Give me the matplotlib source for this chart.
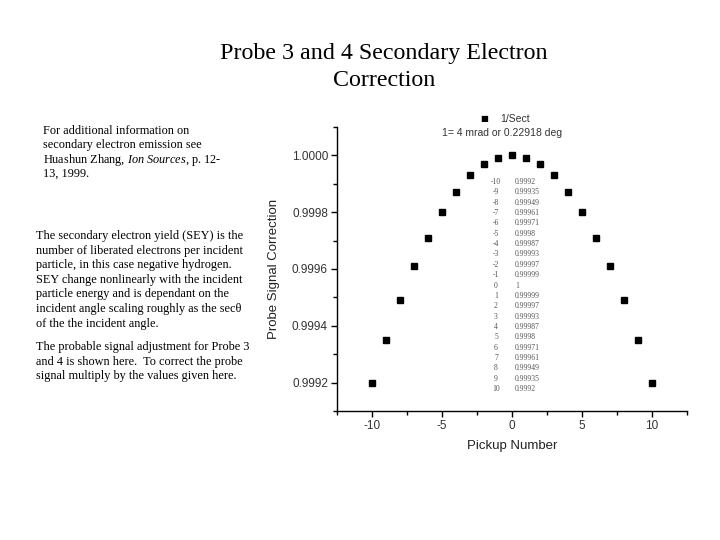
import matplotlib
matplotlib.use("Agg")
import matplotlib.pyplot as plt
from matplotlib.ticker import MultipleLocator, FormatStrFormatter

# ---- data ----
pickup = list(range(-10, 11))
correction = [0.9992, 0.99935, 0.99949, 0.99961, 0.99971, 0.9998, 0.99987,
              0.99993, 0.99997, 0.99999, 1.0, 0.99999, 0.99997, 0.99993,
              0.99987, 0.9998, 0.99971, 0.99961, 0.99949, 0.99935, 0.9992]
table_n = [str(n) for n in pickup]
table_vals = ["0.9992", "0.99935", "0.99949", "0.99961", "0.99971", "0.9998",
              "0.99987", "0.99993", "0.99997", "0.99999", "1", "0.99999",
              "0.99997", "0.99993", "0.99987", "0.9998", "0.99971", "0.99961",
              "0.99949", "0.99935", "0.9992"]

title_lines = ["Probe 3 and 4 Secondary Electron", "Correction"]
para1 = ["For additional information on",
         "secondary electron emission see",
         r"Huashun Zhang, $\mathit{Ion\ Sources}$, p. 12-",
         "13, 1999."]
para2 = ["The secondary electron yield (SEY) is the",
         "number of liberated electrons per incident",
         "particle, in this case negative hydrogen.",
         "SEY change nonlinearly with the incident",
         "particle energy and is dependant on the",
         "incident angle scaling roughly as the sec\u03b8",
         "of the the incident angle."]
para3 = ["The probable signal adjustment for Probe 3",
         "and 4 is shown here.  To correct the probe",
         "signal multiply by the values given here."]

plt.rcParams['mathtext.fontset'] = 'custom'
plt.rcParams['mathtext.it'] = 'Liberation Serif:italic'
plt.rcParams['mathtext.rm'] = 'Liberation Serif'
plt.rcParams['axes.unicode_minus'] = False

W, H = 720, 540
fig = plt.figure(figsize=(7.2, 5.4), dpi=100)

def fx(x):
    return x / W

def fy(y):
    return 1 - y / H

serif = "Liberation Serif"
sans = "Liberation Sans"

# title
for i, line in enumerate(title_lines):
    fig.text(fx(384), fy(53 + i * 28), line, ha="center", va="center",
             family=serif, fontsize=17.3, color="black")

# left text blocks
for i, line in enumerate(para1):
    fig.text(fx(43), fy(131 + i * 14.3), line, ha="left", va="center",
             family=serif, fontsize=8.8)
for i, line in enumerate(para2):
    fig.text(fx(36), fy(236 + i * 14.6), line, ha="left", va="center",
             family=serif, fontsize=8.8)
for i, line in enumerate(para3):
    fig.text(fx(36), fy(347 + i * 14.6), line, ha="left", va="center",
             family=serif, fontsize=8.8)

# axes
ax = fig.add_axes([fx(337), fy(411), (687 - 337) / W, (411 - 127) / H])
ax.plot(pickup, correction, linestyle="none", marker="s", markersize=4.3,
        color="black")
ax.set_xlim(-12.5, 12.5)
ax.set_ylim(0.9991, 1.0001)
for s in ("top", "right"):
    ax.spines[s].set_visible(False)
ax.spines["left"].set_linewidth(1.0)
ax.spines["bottom"].set_linewidth(1.0)
ax.xaxis.set_major_locator(MultipleLocator(5))
ax.xaxis.set_minor_locator(MultipleLocator(2.5))
ax.yaxis.set_major_locator(MultipleLocator(0.0002))
ax.yaxis.set_minor_locator(MultipleLocator(0.0001))
ax.yaxis.set_major_formatter(FormatStrFormatter("%.4f"))
ax.tick_params(which="major", direction="out", length=4.5, width=1,
               labelsize=8.5, labelcolor="#333333", pad=2)
ax.tick_params(which="minor", direction="out", length=3, width=1)
for lab in ax.get_xticklabels() + ax.get_yticklabels():
    lab.set_family(sans)
ax.set_xlabel("Pickup Number", family=sans, fontsize=9.5, color="#222222",
              labelpad=6)
ax.set_ylabel("Probe Signal Correction", family=sans, fontsize=9.5,
              color="#222222", labelpad=8)

# legend-like annotation
fig.text(fx(484), fy(119), "\u25a0", ha="center", va="center", fontsize=6,
         color="black", family="DejaVu Sans")
fig.text(fx(500), fy(119), "1/Sect", ha="left", va="center", family=sans,
         fontsize=7.5, color="#333333")
fig.text(fx(502), fy(133), "1= 4 mrad or 0.22918 deg", ha="center",
         va="center", family=sans, fontsize=7.5, color="#333333")

# table of values inside plot
for i, (n, v) in enumerate(zip(table_n, table_vals)):
    yy = 182 + i * 10.35
    fig.text(fx(496), fy(yy), n, ha="center", va="center", family=serif,
             fontsize=5.5, color="#555555")
    fig.text(fx(515), fy(yy), v, ha="left", va="center", family=serif,
             fontsize=5.5, color="#555555")

fig.savefig("out.png", dpi=100)
